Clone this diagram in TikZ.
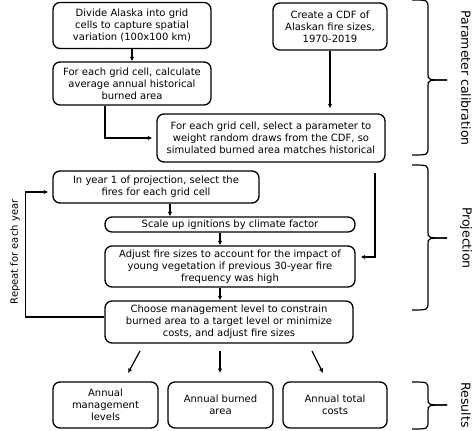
\documentclass[tikz,border=0pt]{standalone}
\usepackage{fontspec}
\setmainfont{DejaVu Sans}
\usetikzlibrary{arrows.meta,calc}
\begin{document}
\begin{tikzpicture}[x=1pt,y=-1pt,
  box/.style={draw,line width=1.3pt,rounded corners=7pt,align=center,inner sep=1pt,
    font=\fontsize{10}{12}\selectfont},
  arr/.style={line width=1.2pt,-{Latex[length=4.5pt,width=4.5pt]}},
  brace/.style={line width=1.2pt},
  side/.style={font=\fontsize{12.5}{14}\selectfont},
]
\useasboundingbox (0,0) rectangle (474,431);
% parameter calibration
\node[box,minimum width=158pt,minimum height=46pt] (b1) at (132,25.5)
  {Divide Alaska into grid\\cells to capture spatial\\variation (100x100 km)};
\node[box,minimum width=158pt,minimum height=43pt] (b2) at (132,83.5)
  {For each grid cell, calculate\\average annual historical\\burned area};
\node[box,minimum width=114pt,minimum height=47pt] (cdf) at (330,26.5)
  {Create a CDF of\\Alaskan fire sizes,\\1970-2019};
\node[box,minimum width=228pt,minimum height=48pt] (b3) at (271,138)
  {For each grid cell, select a parameter to\\weight random draws from the CDF, so\\simulated burned area matches historical};
% projection
\node[box,minimum width=206pt,minimum height=32pt] (y1) at (156,187)
  {In year 1 of projection, select the\\fires for each grid cell};
\node[box,minimum width=250pt,minimum height=15pt] (sc) at (230,224.5)
  {Scale up ignitions by climate factor};
\node[box,minimum width=250pt,minimum height=41pt] (adj) at (230,266.5)
  {Adjust fire sizes to account for the impact of\\young vegetation if previous 30-year fire\\frequency was high};
\node[box,minimum width=248pt,minimum height=42pt] (ch) at (229,322)
  {Choose management level to constrain\\burned area to a target level or minimize\\costs, and adjust fire sizes};
% results
\node[box,minimum width=105pt,minimum height=46pt] (ra) at (105.5,405)
  {Annual\\management\\levels};
\node[box,minimum width=105pt,minimum height=46pt] (rb) at (220.5,405)
  {Annual burned\\area};
\node[box,minimum width=104pt,minimum height=46pt] (rc) at (335,405)
  {Annual total\\costs};
% connectors
\coordinate (xa) at (170,0);
\coordinate (xb) at (220,0);
\draw[arr] (b1.south) -- (b2.north);
\draw[arr] ([xshift=-27pt]b2.south) |- ([xshift=-4pt]b3.west);
\draw[arr] (cdf.south) -- ([yshift=5pt]cdf.south |- b3.north);
\draw[arr] ([xshift=104pt,yshift=-10pt]b3.south) |- ([xshift=5pt,yshift=9.5pt]adj.east);
\draw[arr] (y1.south -| xa) -- (sc.north -| xa);
\draw[arr] (sc.south -| xb) -- (adj.north -| xb);
\draw[arr] (adj.south -| xb) -- (ch.north -| xb);
\draw[arr] ([yshift=5pt]ch.west) -- ++(-79,0) |- ([xshift=-4pt,yshift=-5pt]y1.west);
\coordinate (s1) at (140,351); \coordinate (e1) at (128,373);
\coordinate (s2) at (220,351); \coordinate (e2) at (220,373);
\coordinate (s3) at (312,351); \coordinate (e3) at (323,373);
\draw[arr] (s1) -- (e1);
\draw[arr] (s2) -- (e2);
\draw[arr] (s3) -- (e3);
% braces
\foreach \t/\m/\b in {0/80/155, 165/238/310, 382/405/429}{
  \draw[brace] (412,\t) .. controls (428,\t) .. (428,\t+8) -- (428,\m-6)
    .. controls (428,\m) .. (447,\m);
  \draw[brace] (412,\b) .. controls (428,\b) .. (428,\b-8) -- (428,\m+6)
    .. controls (428,\m) .. (447,\m);
}
\node[side,rotate=-90] (lp) at (466,78) {Parameter calibration};
\node[side,rotate=-90] (lj) at (466,238) {Projection};
\node[side,rotate=-90] (lr) at (466,405) {Results};
\node[rotate=90,font=\fontsize{10}{12}\selectfont] (lrep) at (15,252) {Repeat for each year};
\end{tikzpicture}
\end{document}
